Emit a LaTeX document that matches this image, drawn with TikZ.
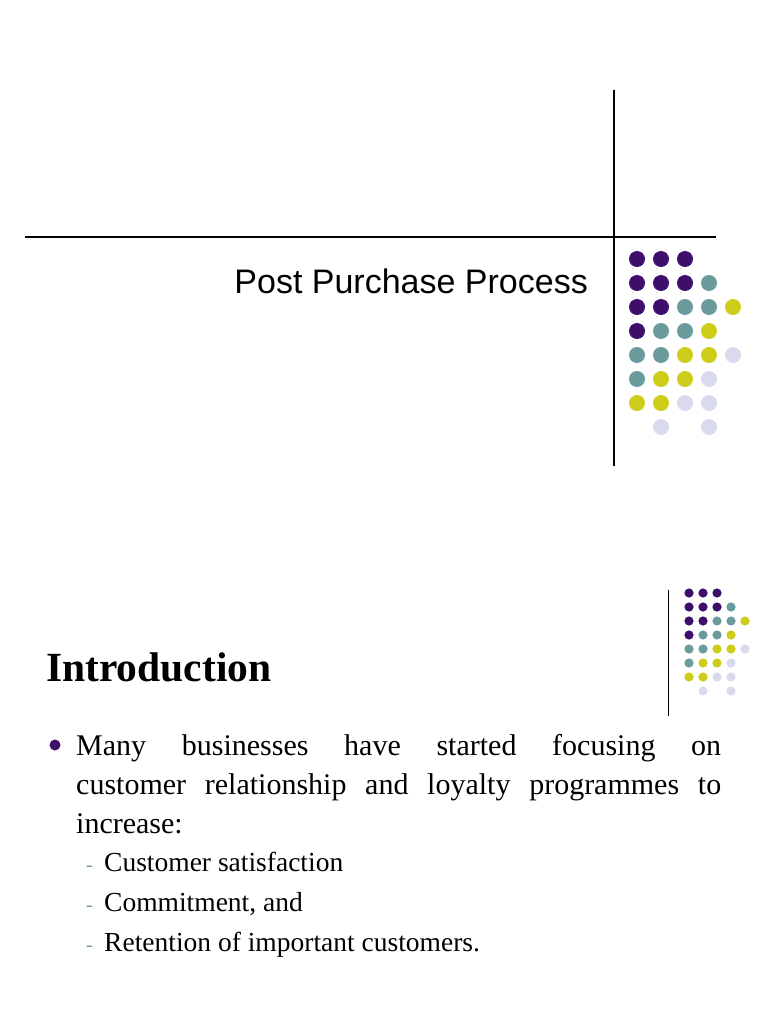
\documentclass[tikz,border=0pt]{standalone}
\usepackage{fontspec}
\setmainfont{Liberation Serif}
\newfontfamily\arialf{Liberation Sans}
\definecolor{dpur}{HTML}{3D0F6B}
\definecolor{dteal}{HTML}{6A9C9D}
\definecolor{dyel}{HTML}{CDCD1A}
\definecolor{dlav}{HTML}{DADAEE}
\tikzset{rule/.style={line width=1.3pt,black}}
\newcommand{\dotgrid}[4]{% x0,y0,spacing,radius
\foreach \r/\c/\col in {0/0/dpur,0/1/dpur,0/2/dpur,
1/0/dpur,1/1/dpur,1/2/dpur,1/3/dteal,
2/0/dpur,2/1/dpur,2/2/dteal,2/3/dteal,2/4/dyel,
3/0/dpur,3/1/dteal,3/2/dteal,3/3/dyel,
4/0/dteal,4/1/dteal,4/2/dyel,4/3/dyel,4/4/dlav,
5/0/dteal,5/1/dyel,5/2/dyel,5/3/dlav,
6/0/dyel,6/1/dyel,6/2/dlav,6/3/dlav,
7/1/dlav,7/3/dlav}
{\fill[\col] ({#1+\c*#3},{-(#2+\r*#3)}) circle (#4);}}
\begin{document}
\begin{tikzpicture}[x=1pt,y=1pt]
\useasboundingbox (0,0) rectangle (768,-1024);
\draw[rule] (614,-90) -- (614,-466);
\draw[rule] (25,-237) -- (716,-237);
\dotgrid{637}{259}{24}{8}
\node[anchor=base east,inner sep=0,font=\arialf\fontsize{34}{40}\selectfont] (title) at (588,-293) {Post Purchase Process};
\draw[rule,line width=1pt] (668,-590) -- (668,-716);
\dotgrid{689}{593}{14}{4.6}
\node[anchor=base west,inner sep=0,font=\bfseries\fontsize{41.5}{46}\selectfont] (intro) at (46,-681) {Introduction};
\fill[dpur] (55,-745) circle (5.5);
\node[anchor=base west,inner sep=0,font=\fontsize{30}{39}\selectfont] (l1) at (76,-755) {\makebox[645pt][s]{Many businesses have started focusing on}};
\node[anchor=base west,inner sep=0,font=\fontsize{30}{39}\selectfont] (l2) at (76,-794) {\makebox[645pt][s]{customer relationship and loyalty programmes to}};
\node[anchor=base west,inner sep=0,font=\fontsize{30}{39}\selectfont] (l3) at (76,-833) {increase:};
\foreach \t [count=\i] in {Customer satisfaction,{Commitment, and},Retention of important customers.}{
\node[anchor=base west,inner sep=0,font=\fontsize{27.5}{32}\selectfont] (s\i) at (104,{-871-(\i-1)*40}) {\t};
\node[anchor=base west,inner sep=0,text=dteal,font=\fontsize{20}{22}\selectfont] (d\i) at (86,{-871-(\i-1)*40}) {-};
}
\end{tikzpicture}
\end{document}
